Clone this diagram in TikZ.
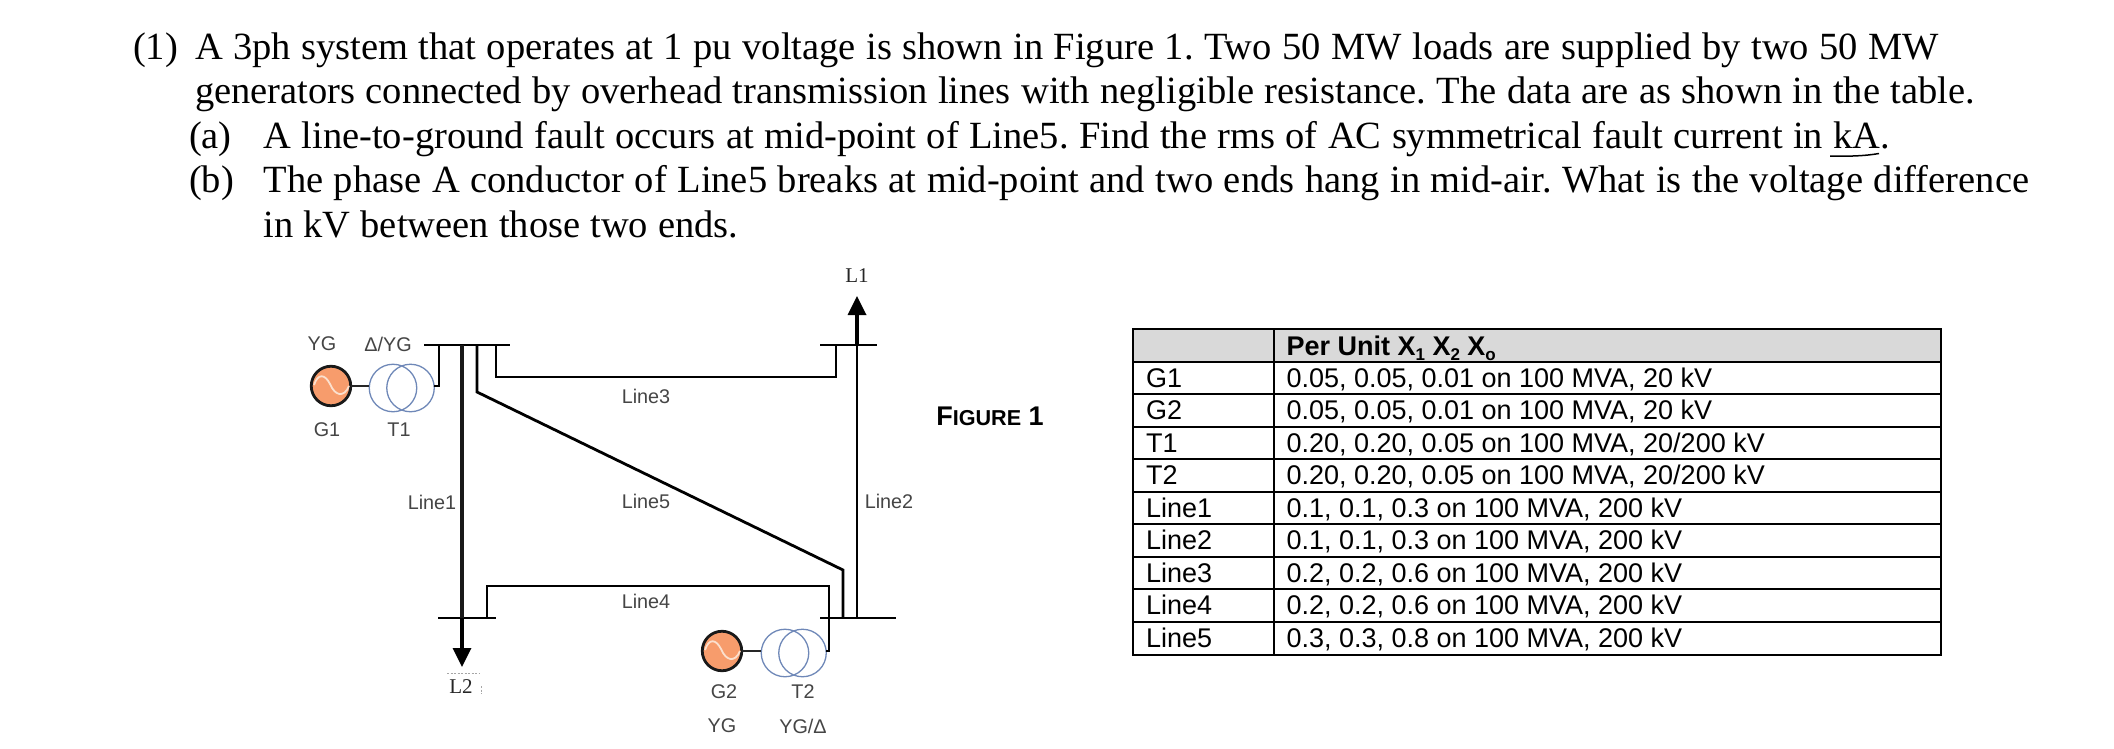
\documentclass[tikz,border=0pt]{standalone}
\usepackage{fontspec}
\setmainfont{Liberation Serif}
\setsansfont{Liberation Sans}
\usetikzlibrary{arrows.meta}
\definecolor{lbl}{HTML}{454545}
\definecolor{genfill}{HTML}{F79C6C}
\definecolor{sinec}{HTML}{FBE0CE}
\definecolor{xfmr}{HTML}{6F88B8}
\definecolor{hdr}{HTML}{D9D9D9}
\newcommand{\parafont}{\fontsize{38.5}{44}\selectfont\rmfamily\frenchspacing}
\newcommand{\tabfont}{\fontsize{27}{30}\selectfont\sffamily}
\newcommand{\lblfont}{\fontsize{19.8}{22}\selectfont\sffamily}
\newcommand{\wline}[2]{\makebox[#1pt][s]{#2}}
\tikzset{
  x=1pt,y=-1pt,
  para/.style={anchor=base west,inner sep=0pt,outer sep=0pt,font=\parafont,text=black},
  tabtext/.style={anchor=base west,inner sep=0pt,outer sep=0pt,font=\tabfont,text=black},
  lab/.style={anchor=center,inner sep=0pt,outer sep=0pt,font=\lblfont,text=lbl},
  serlab/.style={anchor=center,inner sep=0pt,outer sep=0pt,font=\fontsize{21}{24}\selectfont\rmfamily,text=black!85},
  busbar/.style={draw=black,line width=2.8pt},
  wire/.style={draw=black,line width=2.8pt,line join=miter},
  heavy wire/.style={draw=black!90,line width=3.4pt},
  thin wire/.style={draw=black!85,line width=1.8pt},
  load/.style={draw=black,line width=3.4pt,-{Triangle[length=19pt,width=18pt,fill=black]}},
  gen/.style={circle,draw=black!90,fill=genfill,line width=2.8pt,minimum size=39.5pt,inner sep=0pt,outer sep=0pt},
  coil/.style={circle,draw=xfmr,line width=1.3pt,minimum size=47.5pt,inner sep=0pt,outer sep=0pt},
  sinew/.style={draw=sinec,line width=1.8pt},
  tabline/.style={draw=black,line width=2.2pt},
  scrap/.style={draw=black!35,line width=0.6pt,dash pattern=on 2pt off 1.5pt},
}
\begin{document}
\begin{tikzpicture}
\useasboundingbox (0,0) rectangle (2114,749);
\fill[white] (0,0) rectangle (2114,749);
% ---- text
\node[para] (n1) at (133,60) {(1)};
\node[para] (l1) at (195,60) {\wline{1744}{A 3ph system that operates at 1 pu voltage is shown in Figure 1. Two 50 MW loads are supplied by two 50 MW}};
\node[para] (l2) at (195,104) {\wline{1780}{generators connected by overhead transmission lines with negligible resistance. The data are as shown in the table.}};
\node[para] (na) at (189,148) {(a)};
\node[para] (l3) at (263.5,148) {\wline{1626.5}{A line-to-ground fault occurs at mid-point of Line5. Find the rms of AC symmetrical fault current in kA.}};
\node[para] (nb) at (189,192.5) {(b)};
\node[para] (l4) at (263.5,192.5) {\wline{1765.5}{The phase A conductor of Line5 breaks at mid-point and two ends hang in mid-air. What is the voltage difference}};
\node[para] (l5) at (263.5,237) {\wline{475}{in kV between those two ends.}};
\draw[black,line width=1.5pt] (1830,156) .. controls (1848,156.5) and (1865,156) .. (1879,153.5);
% ---- coordinates of the one-line diagram
\coordinate (b1w) at (424,345); \coordinate (b1e) at (510,345);
\coordinate (b2w) at (820,345); \coordinate (b2e) at (877,345);
\coordinate (b3w) at (820,618); \coordinate (b3e) at (896,618);
\coordinate (b4w) at (438,618); \coordinate (b4e) at (496,618);
\coordinate (t1a) at (439,345); \coordinate (t1b) at (439,386);
\coordinate (l1a) at (462,345); \coordinate (l1b) at (462,618); \coordinate (l2tip) at (462,667);
\coordinate (l5a) at (477,345); \coordinate (l5b) at (477,392);
\coordinate (l5c) at (843,570); \coordinate (l5d) at (843,618);
\coordinate (l3a) at (496,345); \coordinate (l3b) at (496,377);
\coordinate (l3c) at (836,377); \coordinate (l3d) at (836,345);
\coordinate (l2a) at (857,345); \coordinate (l2b) at (857,618); \coordinate (l1tip) at (857,296);
\coordinate (l4a) at (487,618); \coordinate (l4b) at (487,586);
\coordinate (l4c) at (829,586); \coordinate (l4d) at (829,651);
% ---- machines
\node[gen] (G1) at (331,386) {};
\node[coil] (T1a) at (393,388) {};
\node[coil] (T1b) at (410.5,388) {};
\node[gen] (G2) at (722,651) {};
\node[coil] (T2a) at (785,653) {};
\node[coil] (T2b) at (802.5,653) {};
\draw[sinew] (314,385) .. controls (318,373) and (325,374) .. (330,384) .. controls (335,396) and (344,398) .. (349,386);
\draw[sinew] (705,650) .. controls (709,638) and (716,639) .. (721,649) .. controls (726,661) and (735,663) .. (740,651);
\draw[thin wire] (G1.east) -- (T1a.west |- G1.east);
\draw[thin wire] (G2.east) -- (T2a.west |- G2.east);
% ---- buses
\draw[busbar] (b1w) -- (b1e);
\draw[busbar] (b2w) -- (b2e);
\draw[busbar] (b3w) -- (b3e);
\draw[busbar] (b4w) -- (b4e);
% ---- lines
\draw[wire] (t1a) -- (t1b) -- (T1b.east |- t1b);
\draw[heavy wire] (l1a) -- (l1b);
\draw[load] (l1b) -- (l2tip);
\draw[wire] (l5a) -- (l5b) -- (l5c) -- (l5d);
\draw[wire] (l3a) -- (l3b) -- (l3c) -- (l3d);
\draw[wire] (l2a) -- (l2b);
\draw[load] (l2a) -- (l1tip);
\draw[wire] (l4a) -- (l4b) -- (l4c) -- (l4d) -- (T2b.east |- l4d);
% ---- labels
\node[lab] (yg1) at (322,344) {YG};
\node[lab] (dy1) at (388,344) {Δ/YG};
\node[lab] (g1l) at (327,430) {G1};
\node[lab] (t1l) at (399,430) {T1};
\node[lab] (line1) at (432,502) {Line1};
\node[lab] (line2) at (889,501) {Line2};
\node[lab] (line3) at (646,396) {Line3};
\node[lab] (line4) at (646,601) {Line4};
\node[lab] (line5) at (646,501) {Line5};
\node[lab] (g2l) at (724,692) {G2};
\node[lab] (t2l) at (803,692) {T2};
\node[lab] (yg2) at (722,726) {YG};
\node[lab] (dy2) at (803,726) {YG/Δ};
\node[serlab] (L1) at (857,276) {L1};
\node[serlab] (L2) at (461,687) {L2};
\draw[scrap] (447,673) -- (480,673);
\draw[scrap] (481,686) -- (481,694);
\node[anchor=center,inner sep=0pt,font=\bfseries\sffamily\fontsize{27}{30}\selectfont,text=black] (fig) at (990,416) {F{\fontsize{21.6}{30}\selectfont IGURE} 1};
% ---- table
\fill[hdr] (1133,329) rectangle (1941,362);
\foreach \yy in {329,362,394,427,459,492,524,557,589,622,655} {
  \draw[tabline] (1132,\yy) -- (1942,\yy);
}
\draw[tabline] (1133,328) -- (1133,656);
\draw[tabline] (1274,328) -- (1274,656);
\draw[tabline] (1941,328) -- (1941,656);
\node[tabtext,font=\bfseries\sffamily\fontsize{27}{30}\selectfont] (hd) at (1286.5,355)
  {Per Unit X\raisebox{-5pt}{\fontsize{17}{20}\selectfont 1} X\raisebox{-5pt}{\fontsize{17}{20}\selectfont 2} X\raisebox{-5pt}{\fontsize{17}{20}\selectfont o}};
\node[tabtext] (r1a) at (1146,387) {G1};
\node[tabtext] (r1b) at (1286.5,387) {0.05, 0.05, 0.01 on 100 MVA, 20 kV};
\node[tabtext] (r2a) at (1146,419.5) {G2};
\node[tabtext] (r2b) at (1286.5,419.5) {0.05, 0.05, 0.01 on 100 MVA, 20 kV};
\node[tabtext] (r3a) at (1146,452) {T1};
\node[tabtext] (r3b) at (1286.5,452) {0.20, 0.20, 0.05 on 100 MVA, 20/200 kV};
\node[tabtext] (r4a) at (1146,484.5) {T2};
\node[tabtext] (r4b) at (1286.5,484.5) {0.20, 0.20, 0.05 on 100 MVA, 20/200 kV};
\node[tabtext] (r5a) at (1146,517) {Line1};
\node[tabtext] (r5b) at (1286.5,517) {0.1, 0.1, 0.3 on 100 MVA, 200 kV};
\node[tabtext] (r6a) at (1146,549.5) {Line2};
\node[tabtext] (r6b) at (1286.5,549.5) {0.1, 0.1, 0.3 on 100 MVA, 200 kV};
\node[tabtext] (r7a) at (1146,582) {Line3};
\node[tabtext] (r7b) at (1286.5,582) {0.2, 0.2, 0.6 on 100 MVA, 200 kV};
\node[tabtext] (r8a) at (1146,614.5) {Line4};
\node[tabtext] (r8b) at (1286.5,614.5) {0.2, 0.2, 0.6 on 100 MVA, 200 kV};
\node[tabtext] (r9a) at (1146,647) {Line5};
\node[tabtext] (r9b) at (1286.5,647) {0.3, 0.3, 0.8 on 100 MVA, 200 kV};
\end{tikzpicture}
\end{document}
